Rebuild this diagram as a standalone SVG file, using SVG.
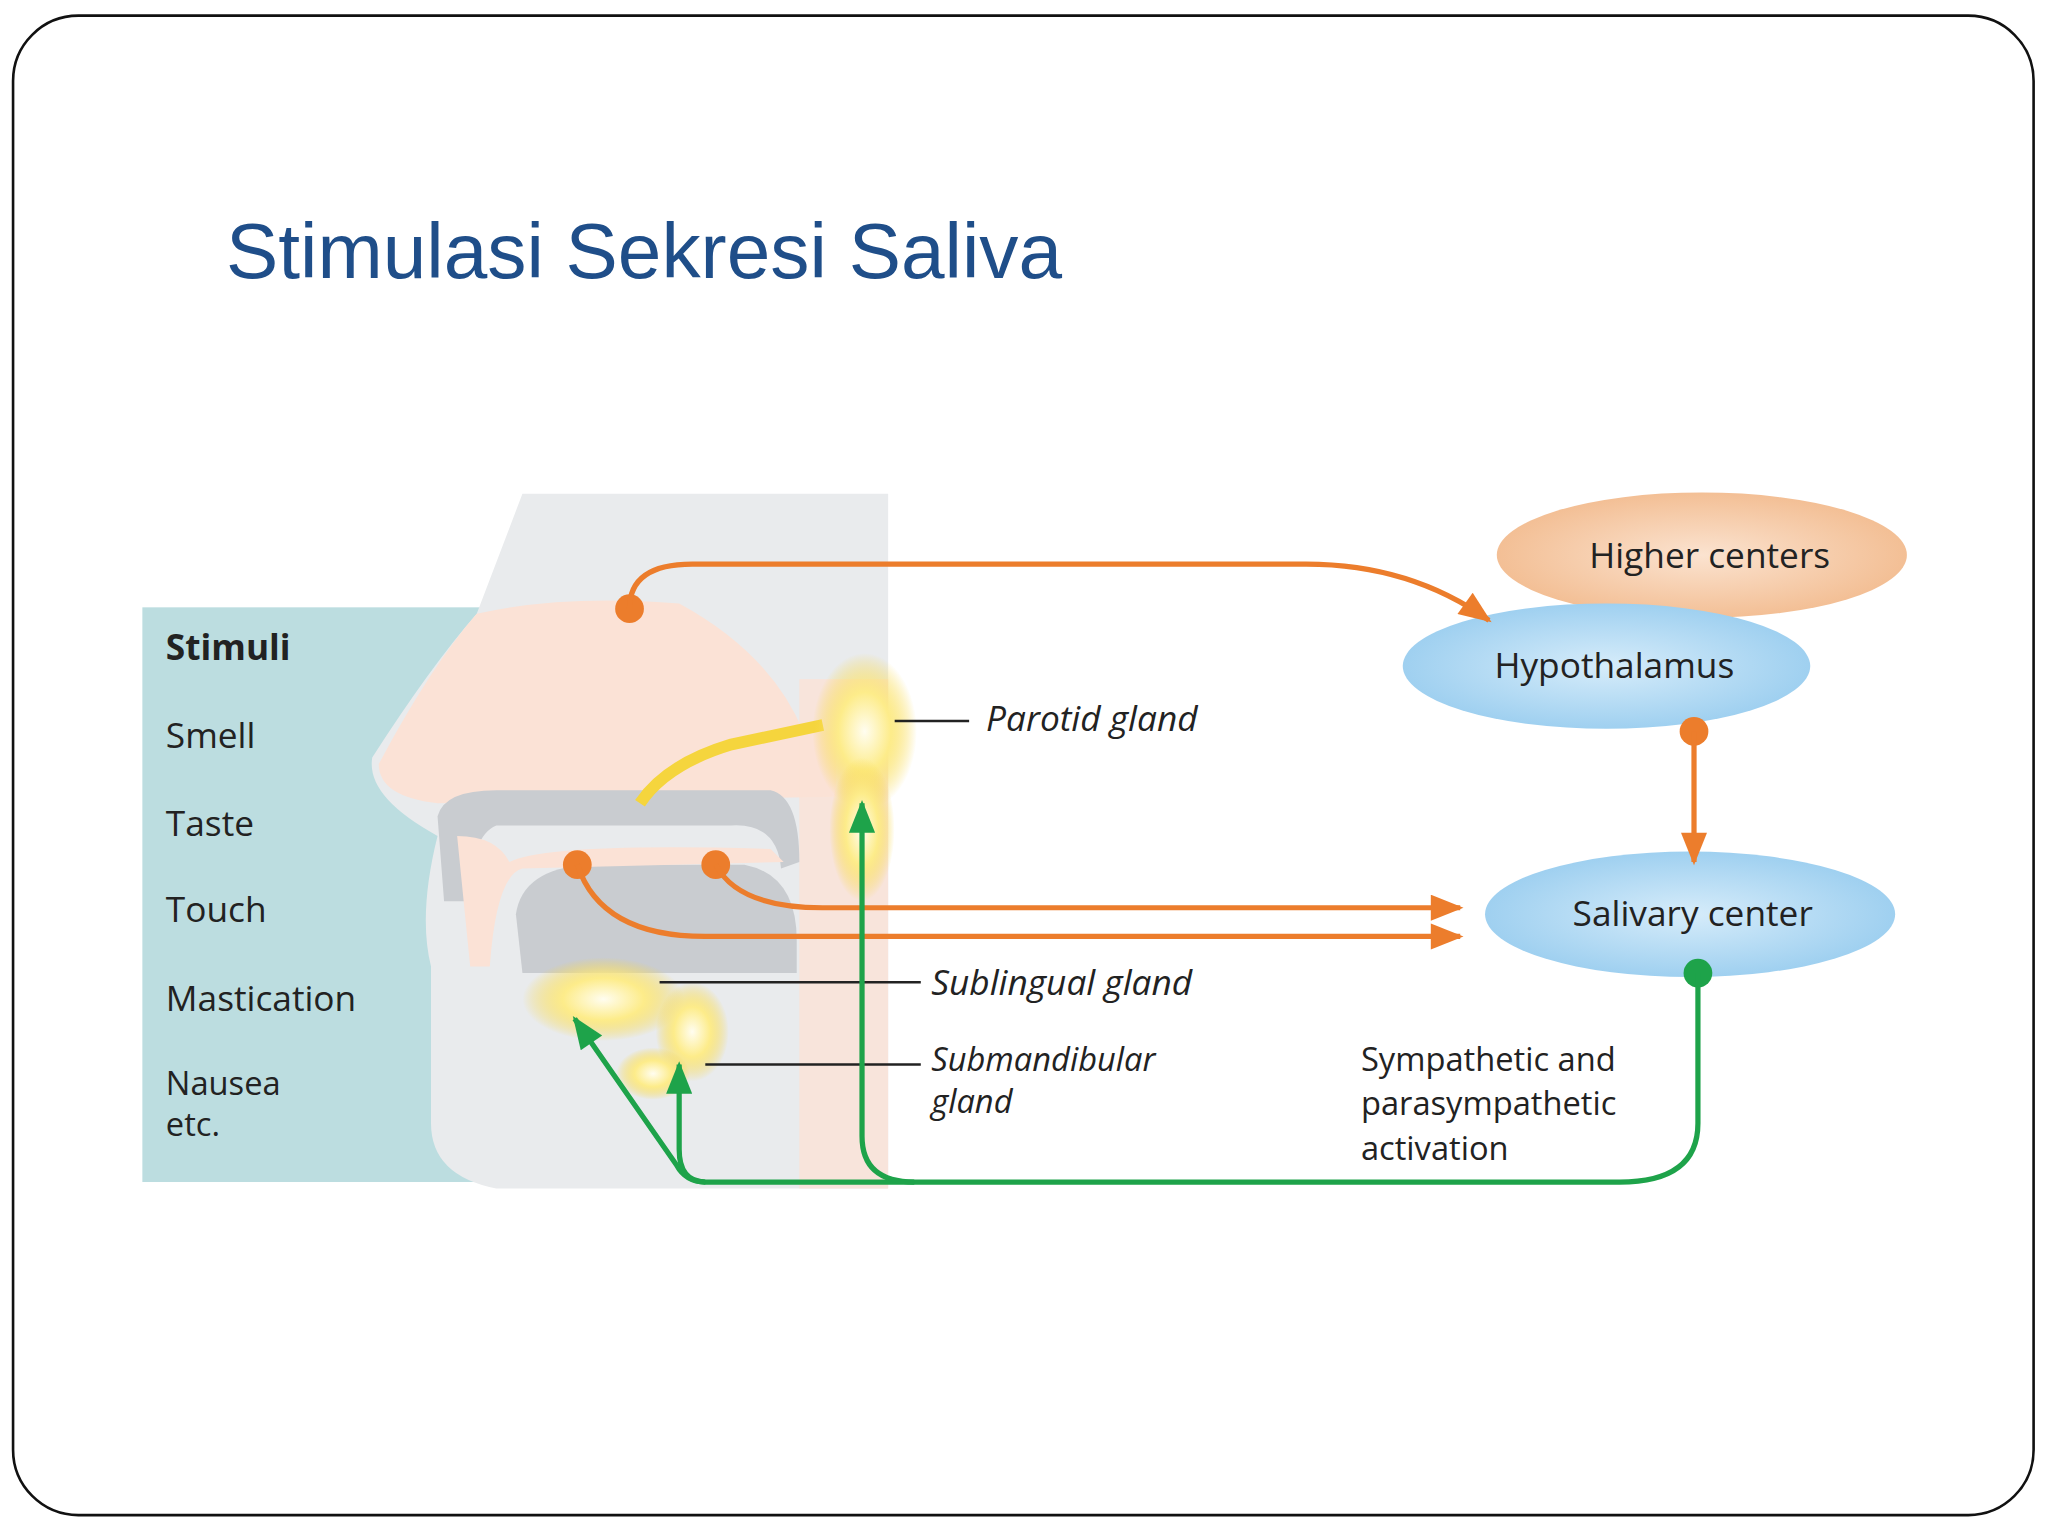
<svg xmlns="http://www.w3.org/2000/svg" width="2048" height="1536" viewBox="0 0 2048 1536">
<defs>
<style>
.t{font-family:"Open Sans","Liberation Sans",sans-serif;fill:#222;font-size:27px}
.s{font-size:25px}
.i{font-style:italic}
.o{fill:none;stroke:#ec7d2c;stroke-width:4}
.g{fill:none;stroke:#1ea34a;stroke-width:4}
.k{stroke:#222;stroke-width:2}
</style>
<marker id="ao2" viewBox="0 0 10 8" refX="9" refY="4" markerWidth="30" markerHeight="20" orient="auto" markerUnits="userSpaceOnUse"><path d="M0,0L10,4L0,8z" fill="#ec7d2c"/></marker>
<marker id="ag" viewBox="0 0 10 8" refX="9" refY="4" markerWidth="30" markerHeight="20" orient="auto" markerUnits="userSpaceOnUse"><path d="M0,0L10,4L0,8z" fill="#1ea34a"/></marker>
<radialGradient id="yl"><stop offset="0" stop-color="#fffdf0"/><stop offset="0.5" stop-color="#fdec8a"/><stop offset="1" stop-color="#f7d43a" stop-opacity="0"/></radialGradient>
<radialGradient id="bl"><stop offset="0" stop-color="#d6ecfa"/><stop offset="1" stop-color="#9fd0f0"/></radialGradient>
<radialGradient id="pc"><stop offset="0" stop-color="#fbe3d0"/><stop offset="1" stop-color="#f3bf95"/></radialGradient>
</defs>
<rect width="2048" height="1536" fill="#fff"/>
<g transform="scale(1.3061)">
<rect x="10" y="12" width="1547" height="1148" rx="50" fill="#fff" stroke="#111" stroke-width="2"/>
<text x="173" y="213" style="font-family:'Liberation Sans',Arial,sans-serif;font-size:60px;fill:#1f4e89">Stimulasi Sekresi Saliva</text>
<g id="stimuli">
<rect x="109" y="465" width="267" height="440" fill="#bcdde0"/>
</g>
<g id="illustration">
<path d="M400,378 L680,378 L680,910 L380,910 Q330,900 330,860 L330,740 Q320,700 335,640 Q280,610 285,580 Q330,510 365,470 Z" fill="#e9ebed"/>
<path d="M365,470 Q430,455 520,462 Q590,500 615,560 L640,560 L640,610 L335,615 Q290,610 290,585 Q330,510 365,470 Z" fill="#fbe2d6"/>
<rect x="612" y="520" width="68" height="390" fill="#fbe2d6" opacity="0.8"/>
<path d="M335,625 Q340,605 380,605 L590,605 Q612,610 612,660 L598,665 Q595,630 560,632 L380,632 Q360,640 360,690 L340,690 Z" fill="#c9ccd0"/>
<path d="M395,700 Q400,665 450,662 L570,662 Q610,670 610,720 L610,745 L400,745 Z" fill="#c9ccd0"/>
<path d="M350,640 Q380,640 390,660 Q420,645 590,650 L600,660 L400,665 Q380,670 375,740 L360,740 Z" fill="#fbe2d6"/>
<path d="M490,615 Q510,585 560,570 L630,555" fill="none" stroke="#f5d53d" stroke-width="9"/>
<ellipse cx="662" cy="560" rx="40" ry="60" fill="url(#yl)"/>
<ellipse cx="660" cy="635" rx="25" ry="55" fill="url(#yl)"/>
<ellipse cx="462" cy="765" rx="62" ry="32" fill="url(#yl)"/>
<ellipse cx="530" cy="790" rx="28" ry="38" fill="url(#yl)"/>
<ellipse cx="500" cy="822" rx="28" ry="20" fill="url(#yl)"/>
</g>
<g id="stimuli-text">
<text class="t" x="127" y="505" font-weight="bold">Stimuli</text>
<text class="t" x="127" y="573">Smell</text>
<text class="t" x="127" y="640">Taste</text>
<text class="t" x="127" y="706">Touch</text>
<text class="t" x="127" y="774">Mastication</text>
<text class="t s" x="127" y="838">Nausea</text>
<text class="t s" x="127" y="870">etc.</text>
</g>
<g id="higher"><ellipse cx="1303" cy="425" rx="157" ry="48" fill="url(#pc)"/><text class="t" x="1309" y="435" text-anchor="middle">Higher centers</text></g>
<g id="hypothalamus"><ellipse cx="1230" cy="510" rx="156" ry="48" fill="url(#bl)"/><text class="t" x="1236" y="519" text-anchor="middle">Hypothalamus</text></g>
<g id="salivary"><ellipse cx="1294" cy="700" rx="157" ry="48" fill="url(#bl)"/><text class="t" x="1296" y="709" text-anchor="middle">Salivary center</text></g>
<g id="labels">
<line class="k" x1="685" y1="552" x2="742" y2="552"/><text class="t i" x="755" y="560">Parotid gland</text>
<line class="k" x1="505" y1="752" x2="705" y2="752"/><text class="t i" x="713" y="762">Sublingual gland</text>
<line class="k" x1="540" y1="815" x2="705" y2="815"/><text class="t i s" x="713" y="820">Submandibular</text><text class="t i s" x="713" y="852">gland</text>
<text class="t s" x="1042" y="820">Sympathetic and</text>
<text class="t s" x="1042" y="854">parasympathetic</text>
<text class="t s" x="1042" y="888">activation</text>
</g>
<g id="connectors">
<circle cx="482" cy="466" r="11" fill="#ec7d2c"/>
<path class="o" d="M482,466 Q482,432 530,432 L1000,432 Q1080,432 1140,475" marker-end="url(#ao2)"/>
<circle cx="442" cy="662" r="11" fill="#ec7d2c"/>
<path class="o" d="M442,662 Q460,717 540,717 L1118,717" marker-end="url(#ao2)"/>
<circle cx="548" cy="662" r="11" fill="#ec7d2c"/>
<path class="o" d="M548,662 Q565,695 630,695 L1118,695" marker-end="url(#ao2)"/>
<circle cx="1297" cy="560" r="11" fill="#ec7d2c"/>
<path class="o" d="M1297,560 L1297,660" marker-end="url(#ao2)"/>
<circle cx="1300" cy="745" r="11" fill="#1ea34a"/>
<path class="g" d="M1300,745 L1300,860 Q1300,905 1240,905 L540,905 Q520,905 520,880 L520,815" marker-end="url(#ag)"/>
<path class="g" d="M700,905 Q660,905 660,870 L660,615" marker-end="url(#ag)"/>
<path class="g" d="M540,905 Q525,905 518,892 L440,780" marker-end="url(#ag)"/>
</g>
</g>
</svg>
